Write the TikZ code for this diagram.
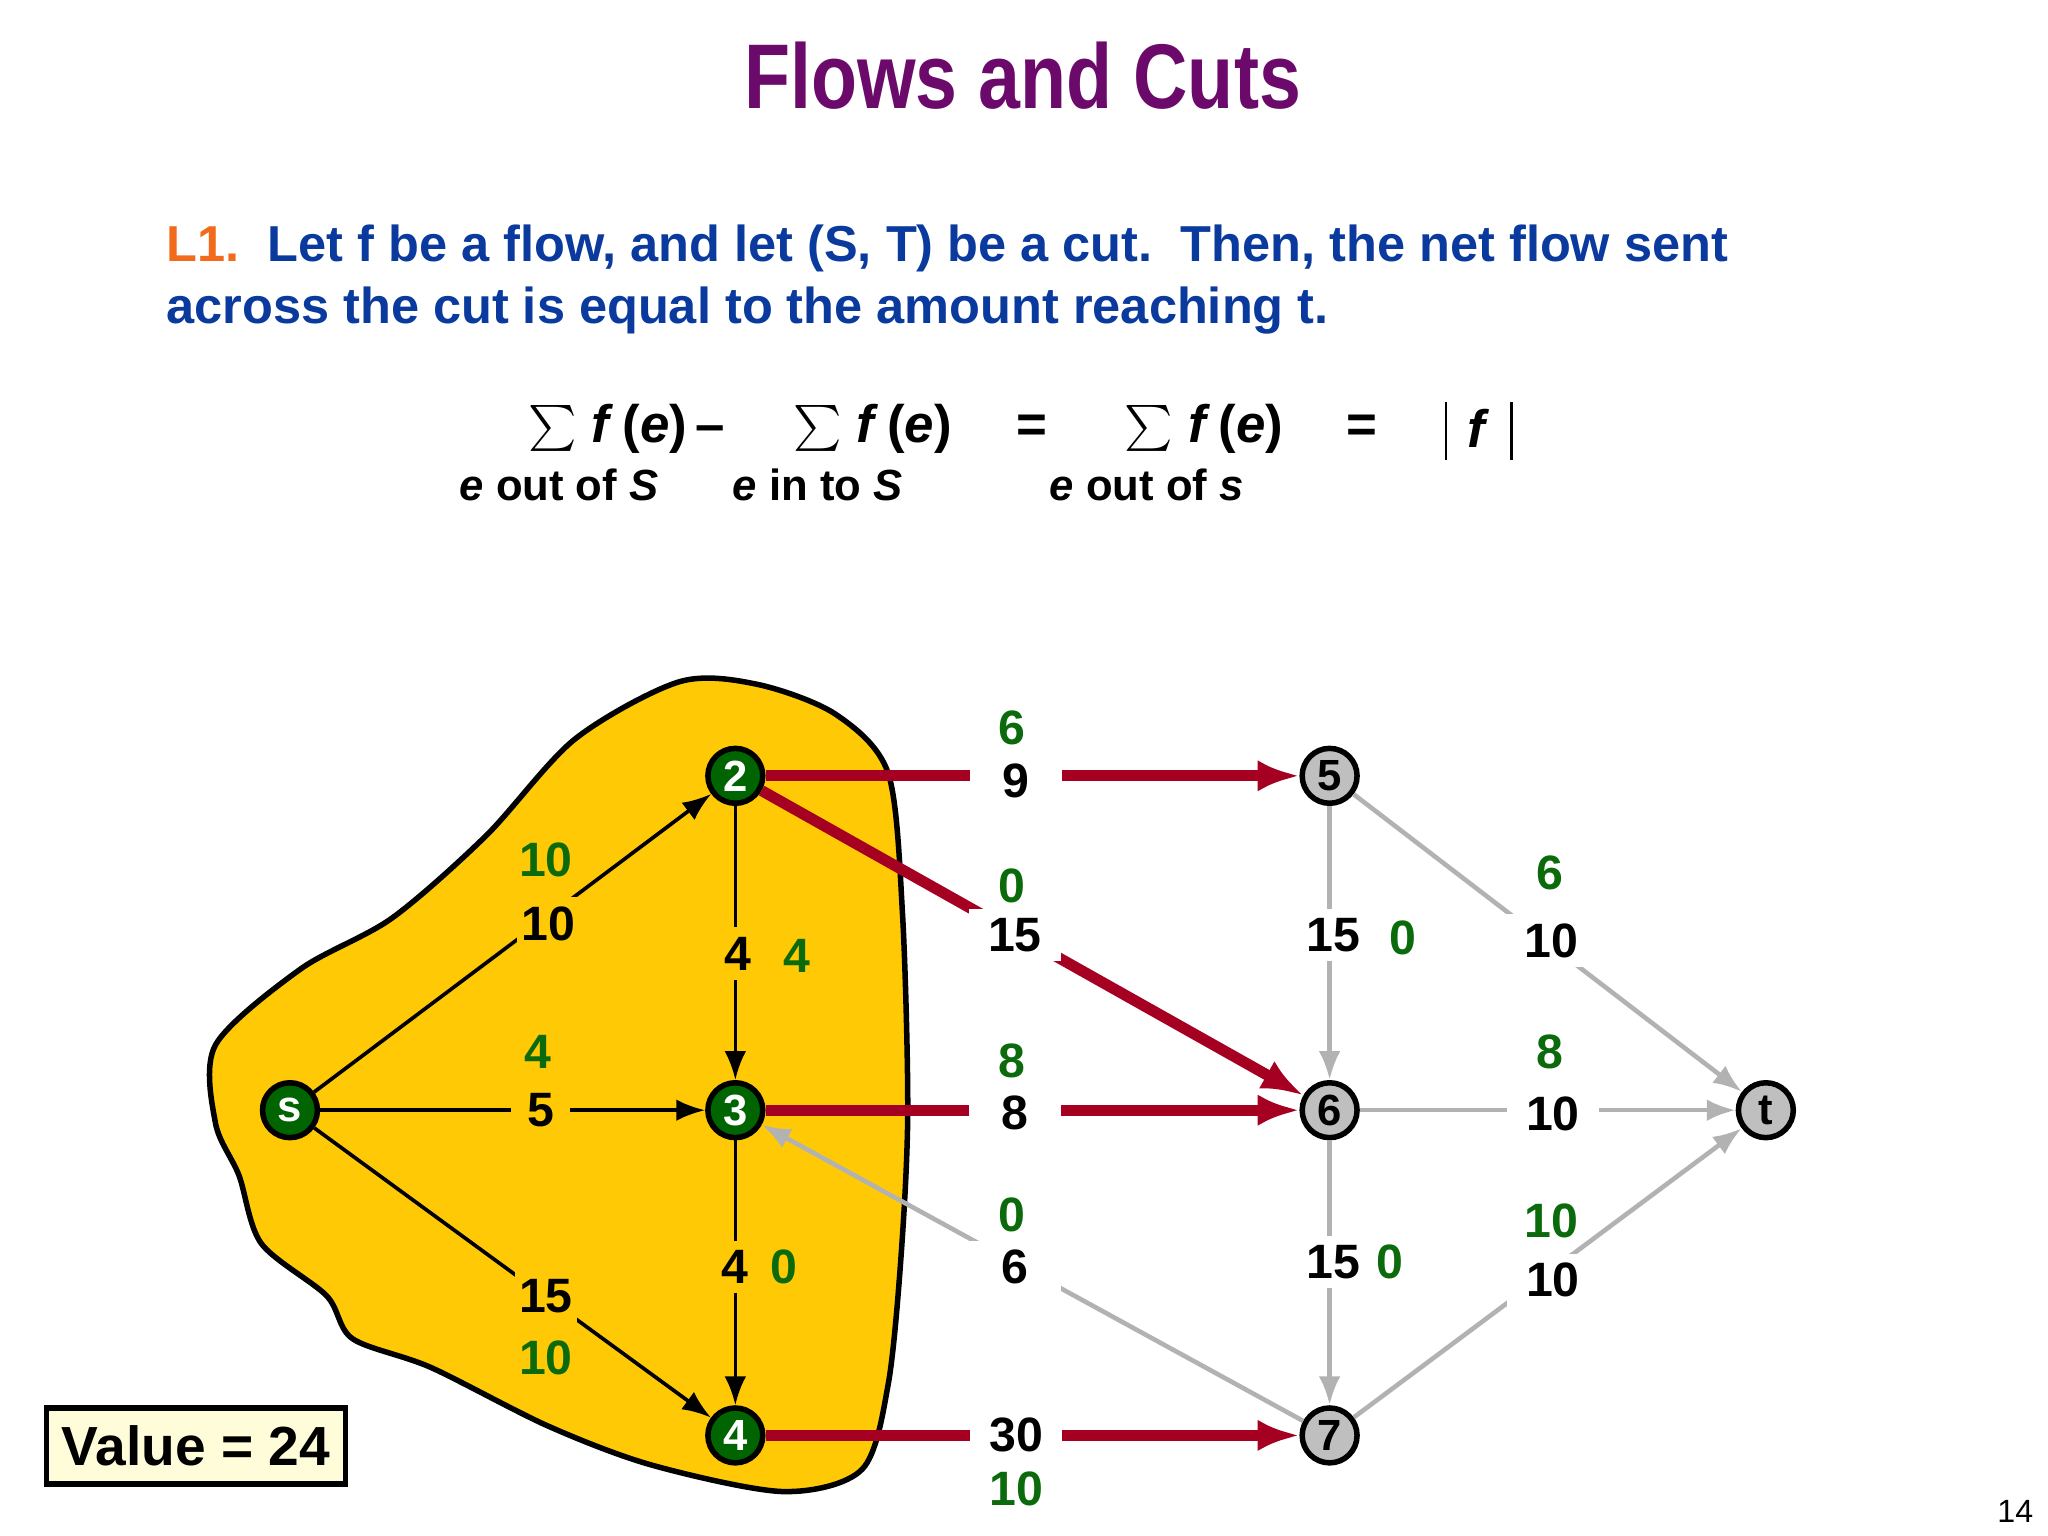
\documentclass[tikz,border=0pt]{standalone}
\usepackage{fontspec}
\setmainfont{Liberation Sans}
\usetikzlibrary{arrows.meta}
\definecolor{blob}{HTML}{FFCA05}
\definecolor{dred}{HTML}{A50021}
\definecolor{dgreen}{HTML}{0B6A0B}
\definecolor{ngreen}{HTML}{006400}
\definecolor{titlep}{HTML}{6B0A6B}
\definecolor{tblue}{HTML}{0A3A9E}
\definecolor{torange}{HTML}{F26B1D}
\tikzset{
  vtx/.style={circle,draw=black,line width=1.2pt,minimum size=0.42cm,inner sep=0pt,font=\bfseries\fontsize{9.5}{9.5}\selectfont},
  gv/.style={vtx,fill=ngreen,text=white},
  yv/.style={vtx,fill=black!25,text=black},
  capl/.style={font=\bfseries\fontsize{10.5}{10.5}\selectfont,inner sep=1pt,minimum width=0.7cm,minimum height=0.4cm},
  wcap/.style={capl,fill=white},
  ycap/.style={capl,fill=blob,minimum width=0.45cm},
  gl/.style={font=\bfseries\fontsize{10.5}{10.5}\selectfont,text=dgreen},
  be/.style={-{Latex[length=2.2mm]},line width=0.8pt,black},
  re/.style={-{Latex[length=3.2mm]},line width=2.4pt,dred},
  ge/.style={-{Latex[length=2.2mm]},line width=1pt,black!30},
}
\begin{document}
\begin{tikzpicture}[x=0.01cm,y=-0.01cm]
\useasboundingbox (0,0) rectangle (1568,1176);
\fill[white] (0,0) rectangle (1568,1176);
\node[text=titlep,font=\bfseries\fontsize{20}{20}\selectfont,xscale=0.82] (title) at (783,58) {Flows and Cuts};
\node[anchor=west,font=\bfseries\fontsize{11}{11}\selectfont,text=tblue] (l1) at (115,190) {\textcolor{torange}{L1.}\ \ Let f be a flow, and let (S, T) be a cut.\ \ Then, the net flow sent};
\node[anchor=west,font=\bfseries\fontsize{11}{11}\selectfont,text=tblue] (l2) at (115,238) {across the cut is equal to the amount reaching t.};
% formula
\begin{scope}[font=\bfseries\fontsize{11.5}{11.5}\selectfont]
\node (f1) at (480,328) {$\sum$ \textit{f}\,(\textit{e})\,–};
\node (f2) at (668,328) {$\sum$ \textit{f}\,(\textit{e})};
\node (eq1) at (790,328) {=};
\node (f3) at (922,328) {$\sum$ \textit{f}\,(\textit{e})};
\node (eq2) at (1043,328) {=};
\node (f4) at (1132,328) {\textit{f}};
\end{scope}
\draw[line width=0.6pt] (1107,308) -- (1107,352) (1157,308) -- (1157,352);
\begin{scope}[font=\bfseries\fontsize{9.5}{9.5}\selectfont]
\node (s1) at (428,371) {\textit{e} out of \textit{S}};
\node (s2) at (626,371) {\textit{e} in to \textit{S}};
\node (s3) at (878,371) {\textit{e} out of \textit{s}};
\end{scope}
% blob
\draw[fill=blob,line width=1.2pt] plot[smooth cycle,tension=0.5] coordinates {(165,800) (230,742) (300,703) (372,640) (440,566) (520,522) (580,524) (640,547) (680,592) (691,700) (695,850) (690,960) (680,1060) (660,1125) (600,1142) (500,1122) (420,1092) (330,1047) (270,1025) (250,992) (200,952) (183,900) (165,860)};
% nodes
\node[gv] (s) at (222,850) {s};
\node[gv] (n2) at (563,594) {2};
\node[gv] (n3) at (563,850) {3};
\node[gv] (n4) at (563,1099) {4};
\node[yv] (n5) at (1018,594) {5};
\node[yv] (n6) at (1018,850) {6};
\node[yv] (n7) at (1018,1099) {7};
\node[yv] (t) at (1352,850) {t};
% edges
\draw[be] (s) -- (n2);
\draw[be] (s) -- (n3);
\draw[be] (s) -- (n4);
\draw[be] (n2) -- (n3);
\draw[be] (n3) -- (n4);
\draw[ge] (n7) -- (n3);
\draw[ge] (n5) -- (n6);
\draw[ge] (n6) -- (n7);
\draw[ge] (n5) -- (t);
\draw[ge] (n6) -- (t);
\draw[ge] (n7) -- (t);
\draw[re] (n2) -- (n5);
\draw[re] (n2) -- (n6);
\draw[re] (n3) -- (n6);
\draw[re] (n4) -- (n7);
% capacities
\node[ycap] (c1) at (420,707) {10};
\node[ycap] (c2) at (414,850) {5};
\node[ycap] (c3) at (418,992) {15};
\node[ycap] (c4) at (565,730) {4};
\node[ycap] (c5) at (563,970) {4};
\node[wcap] (c6) at (778,598) {9};
\node[wcap] (c7) at (777,716) {15};
\node[wcap] (c8) at (777,852) {8};
\node[wcap] (c9) at (777,970) {6};
\node[wcap] (c10) at (778,1099) {30};
\node[wcap,minimum width=0.45cm] (c11) at (1021,716) {15};
\node[wcap,minimum width=0.45cm] (c12) at (1021,966) {15};
\node[wcap] (c13) at (1188,720) {10};
\node[wcap] (c14) at (1189,853) {10};
\node[wcap] (c15) at (1189,980) {10};
% flows
\node[gl] (g1) at (418,658) {10};
\node[gl] (g2) at (412,805) {4};
\node[gl] (g3) at (418,1040) {10};
\node[gl] (g4) at (610,732) {4};
\node[gl] (g5) at (600,970) {0};
\node[gl] (g6) at (775,557) {6};
\node[gl] (g7) at (775,678) {0};
\node[gl] (g8) at (775,812) {8};
\node[gl] (g9) at (775,930) {0};
\node[gl] (g10) at (778,1140) {10};
\node[gl] (g11) at (1074,718) {0};
\node[gl] (g12) at (1064,966) {0};
\node[gl] (g13) at (1187,668) {6};
\node[gl] (g14) at (1187,805) {8};
\node[gl] (g15) at (1188,935) {10};
% value box
\node[draw=black,line width=1.2pt,fill=yellow!15,minimum width=2.24cm,minimum height=0.58cm,font=\bfseries\fontsize{12}{12}\selectfont] (val) at (150,1107) {Value = 24};
\node[font=\fontsize{7}{7}\selectfont] (pg) at (1543,1157) {14};
\end{tikzpicture}
\end{document}
